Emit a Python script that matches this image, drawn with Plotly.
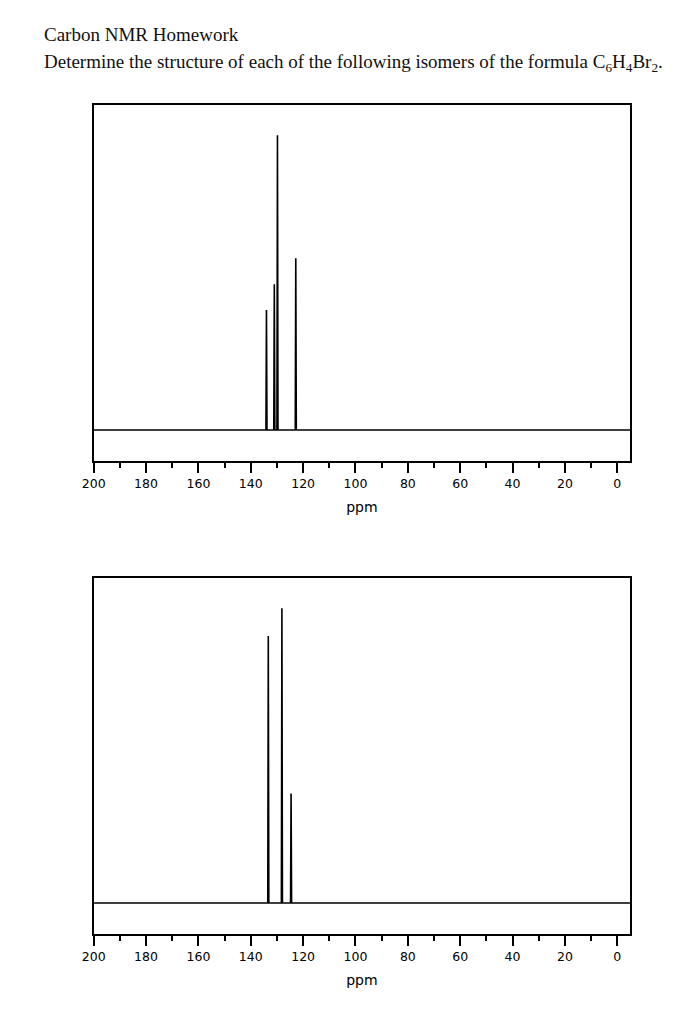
import plotly.graph_objects as go
from plotly.subplots import make_subplots

# peak positions (ppm) and relative intensities
top_ppm = [134.0, 131.0, 129.8, 122.8]
top_int = [40.7, 49.5, 100.0, 58.3]

bottom_ppm = [133.3, 128.1, 124.6]
bottom_int = [90.6, 100.0, 37.2]

x_ticks = [200, 180, 160, 140, 120, 100, 80, 60, 40, 20, 0]
x_range = [200, -4.9]
y_range = [-10.5, 110.3]

# page is 699x1024, body has an 8px margin -> keep the figure inside it
OFF = 8
W, H = 699 - 2 * OFF, 1024 - 2 * OFF


def px_x(x):
    return (x - OFF) / W


def px_y(y):
    return 1 - (y - OFF) / H


def spectrum(ppm, inten, half=0.2):
    # baseline with narrow line-shaped peaks
    xs, ys = [x_range[0]], [0]
    for p, h in sorted(zip(ppm, inten), reverse=True):
        xs += [p + half, p, p - half]
        ys += [0, h, 0]
    xs.append(x_range[1])
    ys.append(0)
    return xs, ys


fig = make_subplots(rows=2, cols=1)

for row, (ppm, inten) in enumerate([(top_ppm, top_int), (bottom_ppm, bottom_int)], start=1):
    xs, ys = spectrum(ppm, inten)
    fig.add_trace(go.Scatter(x=xs, y=ys, mode="lines",
                             line=dict(color="black", width=1.6),
                             hoverinfo="skip", showlegend=False), row=row, col=1)

# panel boxes in page pixels (left, right, top, bottom)
panels = [(83, 629, 105, 461), (83, 629, 578, 934)]
for i, (l, r, t, b) in enumerate(panels, start=1):
    xa = "xaxis" if i == 1 else f"xaxis{i}"
    ya = "yaxis" if i == 1 else f"yaxis{i}"
    fig.layout[xa].update(
        domain=[px_x(l), px_x(r)], range=x_range, tickvals=x_ticks,
        ticks="outside", ticklen=10, tickwidth=1.5, tickcolor="black",
        minor=dict(dtick=10, tick0=0, ticks="outside", ticklen=5,
                   tickwidth=1.5, tickcolor="black"),
        showline=True, mirror=True, linecolor="black", linewidth=1.7,
        showgrid=False, zeroline=False,
        tickfont=dict(family="DejaVu Sans", size=12.5, color="black"),
        title=dict(text="ppm", font=dict(family="DejaVu Sans", size=14, color="black"),
                   standoff=12),
    )
    fig.layout[ya].update(
        domain=[px_y(b), px_y(t)], range=y_range,
        showline=True, mirror=True, linecolor="black", linewidth=1.7,
        showticklabels=False, ticks="", showgrid=False, zeroline=False,
    )

fig.add_annotation(text="Carbon NMR Homework", x=px_x(30), y=px_y(34),
                   xref="paper", yref="paper", xanchor="left", yanchor="middle",
                   showarrow=False,
                   font=dict(family="Liberation Serif", size=19, color="#111"))
fig.add_annotation(text="Determine the structure of each of the following isomers of the formula "
                        "C<sub>6</sub>H<sub>4</sub>Br<sub>2</sub>.",
                   x=px_x(30), y=px_y(63),
                   xref="paper", yref="paper", xanchor="left", yanchor="middle",
                   showarrow=False,
                   font=dict(family="Liberation Serif", size=19, color="#111"))

fig.update_layout(width=W, height=H, margin=dict(l=0, r=0, t=0, b=0),
                  paper_bgcolor="white", plot_bgcolor="white")

fig.write_html("out.html")
